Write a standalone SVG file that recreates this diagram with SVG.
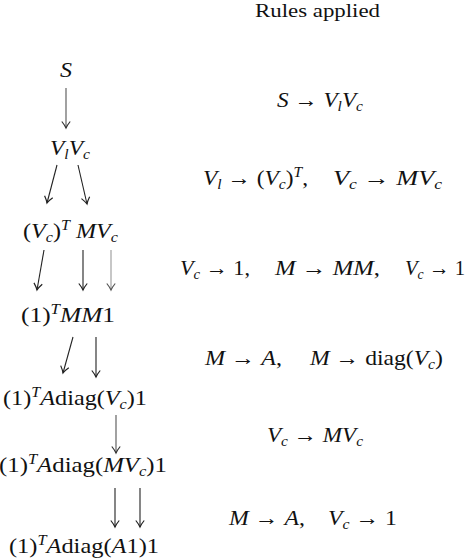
<svg xmlns="http://www.w3.org/2000/svg" width="474" height="558" viewBox="0 0 474 558">
<style>
  text { font-family: "Liberation Serif", "DejaVu Serif", serif; font-size: 21px; fill: #111; }
  .i { font-style: italic; }
  .s { font-size: 14px; }
  .title { font-size: 18px; }
  .c { stroke: #222; stroke-width: 1.1; fill: none; marker-end: url(#ah); }
  .c.lt { stroke: #999; marker-end: url(#ahl); }
  .c.md { stroke: #555; marker-end: url(#ahm); }
</style>
<defs>
  <marker id="ah" markerUnits="userSpaceOnUse" markerWidth="12" markerHeight="12" viewBox="-8 -6 10 12" refX="0" refY="0" orient="auto">
    <path d="M-6.5,-4.2 Q-2.5,-1 0,0 Q-2.5,1 -6.5,4.2" fill="none" stroke="#222" stroke-width="1.2"/>
  </marker>
  <marker id="ahl" markerUnits="userSpaceOnUse" markerWidth="12" markerHeight="12" viewBox="-8 -6 10 12" refX="0" refY="0" orient="auto">
    <path d="M-6.5,-4.2 Q-2.5,-1 0,0 Q-2.5,1 -6.5,4.2" fill="none" stroke="#555" stroke-width="1.2"/>
  </marker>
  <marker id="ahm" markerUnits="userSpaceOnUse" markerWidth="12" markerHeight="12" viewBox="-8 -6 10 12" refX="0" refY="0" orient="auto">
    <path d="M-6.5,-4.2 Q-2.5,-1 0,0 Q-2.5,1 -6.5,4.2" fill="none" stroke="#333" stroke-width="1.2"/>
  </marker>
</defs>
<rect width="474" height="558" fill="#fff"/>

<g id="title">
  <text class="title" x="255" y="17" textLength="125" lengthAdjust="spacingAndGlyphs">Rules applied</text>
</g>

<g id="n1"><text x="60" y="77" textLength="12" lengthAdjust="spacingAndGlyphs"><tspan class="i">S</tspan></text></g>

<g id="n2"><text x="50" y="155" textLength="40" lengthAdjust="spacingAndGlyphs"><tspan class="i">V</tspan><tspan class="i s" dy="4">l</tspan><tspan class="i" dy="-4">V</tspan><tspan class="i s" dy="4">c</tspan></text></g>

<g id="n3"><text x="23" y="238" textLength="95" lengthAdjust="spacingAndGlyphs">(<tspan class="i">V</tspan><tspan class="i s" dy="4">c</tspan><tspan dy="-4">)</tspan><tspan class="i s" dy="-8">T</tspan><tspan class="i" dy="8"> M</tspan><tspan class="i">V</tspan><tspan class="i s" dy="4">c</tspan></text></g>

<g id="n4"><text x="21" y="322" textLength="94" lengthAdjust="spacingAndGlyphs">(1)<tspan class="i s" dy="-8">T</tspan><tspan class="i" dy="8">MM</tspan>1</text></g>

<g id="n5"><text x="3" y="405" textLength="144" lengthAdjust="spacingAndGlyphs">(1)<tspan class="i s" dy="-8">T</tspan><tspan class="i" dy="8">A</tspan>diag(<tspan class="i">V</tspan><tspan class="i s" dy="4">c</tspan><tspan dy="-4">)1</tspan></text></g>

<g id="n6"><text x="-1" y="472" textLength="168" lengthAdjust="spacingAndGlyphs">(1)<tspan class="i s" dy="-8">T</tspan><tspan class="i" dy="8">A</tspan>diag(<tspan class="i">MV</tspan><tspan class="i s" dy="4">c</tspan><tspan dy="-4">)1</tspan></text></g>

<g id="n7"><text x="9" y="553" textLength="150" lengthAdjust="spacingAndGlyphs">(1)<tspan class="i s" dy="-8">T</tspan><tspan class="i" dy="8">A</tspan>diag(<tspan class="i">A</tspan>1)1</text></g>

<g id="rules">
  <text x="277" y="107" textLength="86" lengthAdjust="spacingAndGlyphs"><tspan class="i">S</tspan> → <tspan class="i">V</tspan><tspan class="i s" dy="4">l</tspan><tspan class="i" dy="-4">V</tspan><tspan class="i s" dy="4">c</tspan></text>

  <text x="203" y="185" textLength="105" lengthAdjust="spacingAndGlyphs"><tspan class="i">V</tspan><tspan class="i s" dy="4">l</tspan><tspan dy="-4"> → (</tspan><tspan class="i">V</tspan><tspan class="i s" dy="4">c</tspan><tspan dy="-4">)</tspan><tspan class="i s" dy="-8">T</tspan><tspan dy="8">,</tspan></text>
  <text x="333" y="185" textLength="109" lengthAdjust="spacingAndGlyphs"><tspan class="i">V</tspan><tspan class="i s" dy="4">c</tspan><tspan dy="-4"> → </tspan><tspan class="i">MV</tspan><tspan class="i s" dy="4">c</tspan></text>

  <text x="180" y="275" textLength="70" lengthAdjust="spacingAndGlyphs"><tspan class="i">V</tspan><tspan class="i s" dy="4">c</tspan><tspan dy="-4"> → 1,</tspan></text>
  <text x="275" y="275" textLength="105" lengthAdjust="spacingAndGlyphs"><tspan class="i">M</tspan> → <tspan class="i">MM</tspan>,</text>
  <text x="405" y="275" textLength="60" lengthAdjust="spacingAndGlyphs"><tspan class="i">V</tspan><tspan class="i s" dy="4">c</tspan><tspan dy="-4"> → 1</tspan></text>

  <text x="205" y="365" textLength="77" lengthAdjust="spacingAndGlyphs"><tspan class="i">M</tspan> → <tspan class="i">A</tspan>,</text>
  <text x="310" y="365" textLength="133" lengthAdjust="spacingAndGlyphs"><tspan class="i">M</tspan> → diag(<tspan class="i">V</tspan><tspan class="i s" dy="4">c</tspan><tspan dy="-4">)</tspan></text>

  <text x="267" y="442" textLength="96" lengthAdjust="spacingAndGlyphs"><tspan class="i">V</tspan><tspan class="i s" dy="4">c</tspan><tspan dy="-4"> → </tspan><tspan class="i">MV</tspan><tspan class="i s" dy="4">c</tspan></text>

  <text x="229" y="525" textLength="76" lengthAdjust="spacingAndGlyphs"><tspan class="i">M</tspan> → <tspan class="i">A</tspan>,</text>
  <text x="328" y="525" textLength="69" lengthAdjust="spacingAndGlyphs"><tspan class="i">V</tspan><tspan class="i s" dy="4">c</tspan><tspan dy="-4"> → 1</tspan></text>
</g>

<g id="connectors">
  <line class="c md" x1="66" y1="88" x2="66" y2="128"/>
  <line class="c" x1="57" y1="165" x2="47" y2="203"/>
  <line class="c" x1="78" y1="165" x2="87" y2="204"/>
  <line class="c" x1="44" y1="250" x2="37" y2="290"/>
  <line class="c" x1="83" y1="250" x2="83" y2="290"/>
  <line class="c lt" x1="111" y1="250" x2="111" y2="290"/>
  <line class="c" x1="73" y1="337" x2="63" y2="373"/>
  <line class="c" x1="96" y1="337" x2="96" y2="377"/>
  <line class="c md" x1="116" y1="415" x2="116" y2="453"/>
  <line class="c" x1="115" y1="488" x2="115" y2="527"/>
  <line class="c" x1="140" y1="488" x2="140" y2="527"/>
</g>
</svg>
